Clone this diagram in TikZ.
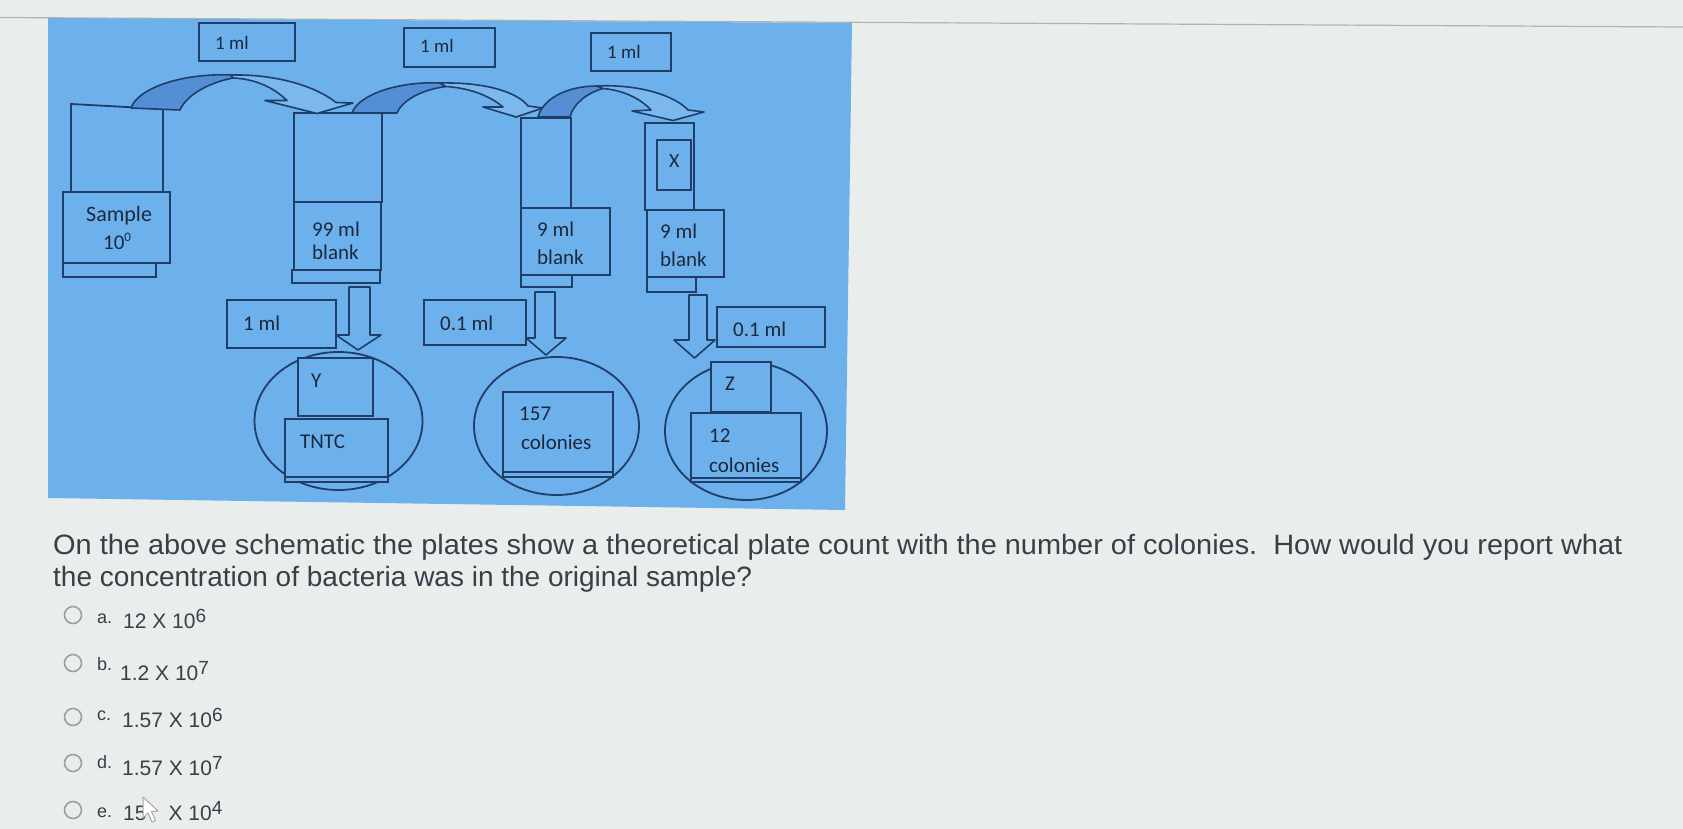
\documentclass[tikz,border=0pt]{standalone}
\usepackage{fontspec}
\setmainfont{Liberation Sans}
\newfontfamily\calfont{Carlito}
\definecolor{bgc}{RGB}{233,238,237}
\definecolor{panel}{RGB}{108,176,236}
\definecolor{darkface}{RGB}{84,142,212}
\definecolor{lightband}{RGB}{122,184,238}
\definecolor{linec}{RGB}{32,62,104}
\definecolor{txtc}{RGB}{28,40,60}
\definecolor{qtxt}{RGB}{58,62,72}
\tikzset{
  box/.style={draw=linec, line width=1.8pt, fill=panel},
  arrowshape/.style={draw=linec, line width=1.6pt, fill=panel, line join=round},
  face/.style={draw=linec, line width=1.6pt, fill=darkface, line join=round},
  band/.style={draw=linec, line width=1.6pt, fill=lightband, line join=round},
  plate/.style={draw=linec, line width=1.8pt},
  lbl/.style={font=\calfont\fontsize{21}{24}\selectfont, text=txtc, inner sep=0pt, anchor=base west},
  toplbl/.style={font=\calfont\fontsize{19}{22}\selectfont, text=txtc, inner sep=0pt, anchor=base west},
  qline/.style={font=\fontsize{28}{32}\selectfont, text=qtxt, inner sep=0pt, anchor=base west},
  optlet/.style={font=\fontsize{18}{20}\selectfont, text=qtxt, inner sep=0pt, anchor=base west},
  optval/.style={font=\fontsize{21}{24}\selectfont, text=qtxt, inner sep=0pt, anchor=base west},
  radio/.style={draw=gray!75, line width=1.6pt}
}
\newcommand{\supr}[1]{\raisebox{6pt}{\fontsize{19}{20}\selectfont #1}}
\begin{document}
\begin{tikzpicture}[x=1pt,y=-1pt]
\useasboundingbox (0,0) rectangle (1683,829);
\fill[bgc] (0,0) rectangle (1683,829);
\draw[gray!60, line width=1.2pt] (0,17.5) -- (1683,27);
% panel
\fill[panel] (48,18) -- (852,23) -- (845,510) -- (48,498) -- cycle;

% top volume boxes
\draw[box] (199,23) rectangle (295,61);
\draw[box] (404,28) rectangle (495,67);
\draw[box] (591,33) rectangle (671,71);
\node[toplbl] (t1) at (215,50) {1 ml};
\node[toplbl] (t2) at (420,53) {1 ml};
\node[toplbl] (t3) at (607,59) {1 ml};

% tube: sample
\draw[box] (71,104) -- (163,109) -- (163,192) -- (71,192) -- cycle;
\draw[box] (63,263) rectangle (156,277);
\draw[box] (63,192) rectangle (170,263);
\node[lbl, font=\calfont\fontsize{22}{24}\selectfont] (sample) at (86,222) {Sample};
\node[lbl] (s0) at (103,249) {10\raisebox{8pt}{\fontsize{13}{13}\selectfont 0}};

% tube 2
\draw[box] (294,113) rectangle (382,202);
\draw[box] (292,270) rectangle (380,283);
\draw[box] (294,202) rectangle (381,270);
\node[lbl] (v99) at (312,236) {99 ml};
\node[lbl] (b2) at (312,259) {blank};

% tube 3
\draw[box] (521,118) rectangle (571,208);
\draw[box] (521,275) rectangle (572,287);
\draw[box] (521,208) rectangle (610,275);
\node[lbl] (v9a) at (537,236) {9 ml};
\node[lbl] (b3) at (537,264) {blank};

% tube 4
\draw[box] (645,123) rectangle (694,210);
\draw[box] (657,140) rectangle (691,190);
\node[lbl, font=\calfont\fontsize{20}{22}\selectfont] (xx) at (669,168) {X};
\draw[box] (647,277) rectangle (696,292);
\draw[box] (647,210) rectangle (724,277);
\node[lbl] (v9b) at (660,238) {9 ml};
\node[lbl] (b4) at (660,266) {blank};

% curved arrow 1
\draw[face] (131,108) .. controls (138,88) and (182,73) .. (231,75) -- (233,78)
   .. controls (207,83) and (186,96) .. (180,110) -- cycle;
\draw[band] (231,75) .. controls (280,74) and (318,88) .. (336,102.5) -- (353,103) -- (317,113.5)
   -- (265,100.5) -- (287,100.5) .. controls (273,87) and (255,79) .. (233,78) -- cycle;
% curved arrow 2
\draw[face] (352,113) .. controls (358,95) and (398,81) .. (440,83) -- (446,86.5)
   .. controls (420,90) and (402,101) .. (397,113) -- cycle;
\draw[band] (440,83) .. controls (488,82) and (518,93) .. (528,106) -- (543,108) -- (516,117)
   -- (483,107) -- (503,107) .. controls (490,96) and (470,88) .. (446,86.5) -- cycle;
% curved arrow 3
\draw[face] (538,117) .. controls (543,98) and (568,86) .. (597,86) -- (603,88.5)
   .. controls (587,93) and (573,104) .. (570,117) -- cycle;
\draw[band] (597,86) .. controls (640,84) and (675,96) .. (688,110) -- (704,112) -- (673,120.5)
   -- (632,111) -- (651,110) .. controls (640,98) and (622,90) .. (603,88.5) -- cycle;

% plates
\draw[plate] (338.5,421) ellipse [x radius=84pt, y radius=69pt];
\draw[plate] (556.5,426) ellipse [x radius=82.5pt, y radius=69pt];
\draw[plate] (746,431) ellipse [x radius=81pt, y radius=69pt];

% volume plated labels
\draw[box] (227,300) rectangle (336,348);
\node[lbl] (p1) at (243,330) {1 ml};
\draw[box] (424,300) rectangle (526,345);
\node[lbl] (p2) at (440,330) {0.1 ml};
\draw[box] (717,307) rectangle (825,347);
\node[lbl] (p3) at (733,336) {0.1 ml};

% down arrows
\draw[arrowshape] (349,287) -- (370,287) -- (370,335) -- (381,335) -- (358,350) -- (336,335) -- (349,335) -- cycle;
\draw[arrowshape] (535,292) -- (555,292) -- (555,338) -- (566,338) -- (546,355) -- (526,338) -- (535,338) -- cycle;
\draw[arrowshape] (689,295) -- (707,295) -- (707,340) -- (715,340) -- (694.5,358) -- (674,340) -- (689,340) -- cycle;

% plate contents
\draw[box] (298,358) rectangle (373,416);
\node[lbl] (yy) at (311,387) {Y};
\draw[box] (285,419) rectangle (388,482);
\draw[linec, line width=1.4pt] (285,477) -- (388,477);
\node[lbl] (tntc) at (300,448) {TNTC};

\draw[box] (503,392) rectangle (613,477);
\draw[linec, line width=1.4pt] (503,472) -- (613,472);
\node[lbl] (n157) at (519,420) {157};
\node[lbl] (c157) at (521,449) {colonies};

\draw[box] (711,362) rectangle (771,412);
\node[lbl] (zz) at (725,390) {Z};
\draw[box] (691,413) rectangle (801,482);
\draw[linec, line width=1.4pt] (691,478) -- (801,478);
\node[lbl] (n12) at (709,442) {12};
\node[lbl] (c12) at (709,472) {colonies};

% question
\node[qline] (q1) at (53,554) {\scalebox{1.033}[1]{On the above schematic the plates show a theoretical plate count with the number of colonies.\ \ How would you report what}};
\node[qline] (q2) at (53,586) {the concentration of bacteria was in the original sample?};

% options
\draw[radio] (73,615) circle (8.5pt);
\node[optlet] (la) at (97,623) {a.};
\node[optval] (va) at (123,628) {12 X 10\supr{6}};
\draw[radio] (73,663) circle (8.5pt);
\node[optlet] (lb) at (97,670) {b.};
\node[optval] (vb) at (120,680) {1.2 X 10\supr{7}};
\draw[radio] (73,717) circle (8.5pt);
\node[optlet] (lc) at (97,720) {c.};
\node[optval] (vc) at (122,727) {1.57 X 10\supr{6}};
\draw[radio] (73,763) circle (8.5pt);
\node[optlet] (ld) at (97,768) {d.};
\node[optval] (vd) at (122,775) {1.57 X 10\supr{7}};
\draw[radio] (73,810) circle (8.5pt);
\node[optlet] (le) at (97,817) {e.};
\node[optval] (ve) at (123,820) {15\hspace{22pt}X 10\supr{4}};
% mouse pointer
\draw[gray!70, fill=white, line width=1pt, line join=round]
  (143,797) -- (143,818) -- (148,813) -- (152,822) -- (155.5,820.5) -- (151.5,811.5) -- (158,811) -- cycle;
\end{tikzpicture}
\end{document}
